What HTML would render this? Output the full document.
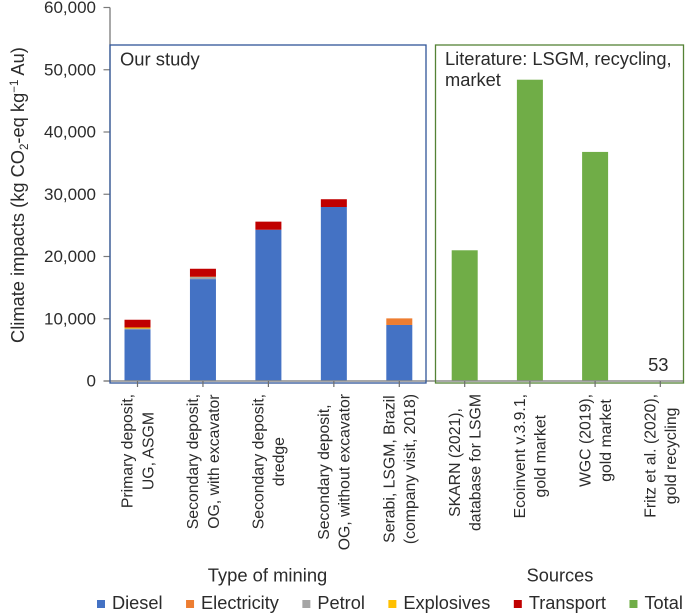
<!DOCTYPE html>
<html lang="en">
<head>
<meta charset="utf-8">
<title>Climate impacts of gold mining</title>
<style>
html,body{margin:0;padding:0;background:#fff;}
svg{display:block;font-family:"Liberation Sans",sans-serif;fill:#231f20;}
text{fill:#2b2b2b;}
</style>
</head>
<body>
<svg id="chart" width="685" height="614" viewBox="0 0 685 614" xmlns="http://www.w3.org/2000/svg"></svg>
<script>
const studyLabels = [
  ["Primary deposit,", "UG, ASGM"],
  ["Secondary deposit,", "OG, with excavator"],
  ["Secondary deposit,", "dredge"],
  ["Secondary deposit,", "OG, without excavator"],
  ["Serabi, LSGM, Brazil", "(company visit, 2018)"]
];
const diesel = [8300, 16370, 24300, 27950, 9000];
const electricity = [0, 0, 0, 0, 1060];
const petrol = [130, 330, 0, 0, 0];
const explosives = [170, 50, 0, 0, 0];
const transport = [1240, 1280, 1300, 1250, 0];
const literatureLabels = [
  ["SKARN (2021),", "database for LSGM"],
  ["Ecoinvent v.3.9.1,", "gold market"],
  ["WGC (2019),", "gold market"],
  ["Fritz et al. (2020),", "gold recycling"]
];
const total = [21000, 48400, 36800, 53];
const yTicks = [0, 10000, 20000, 30000, 40000, 50000, 60000];
const printedValues = ["", "", "", "53"];
const legendNames = ["Diesel", "Electricity", "Petrol", "Explosives", "Transport", "Total"];

const NS = "http://www.w3.org/2000/svg";
const svg = document.getElementById("chart");
const colors = {Diesel:"#4472c4", Electricity:"#ed7d31", Petrol:"#a5a5a5", Explosives:"#ffc000", Transport:"#c00000", Total:"#70ad47"};

const yZero = 381, pxPerUnit = 373.5 / 60000;
function yScale(v){ return yZero - v * pxPerUnit; }
function xStudy(i){ return 137.5 + i * 65.45; }
function xLit(i){ return 464.7 + i * 65.2; }

function make(tag, attrs, parent){
  const el = document.createElementNS(NS, tag);
  for (const k in attrs) el.setAttribute(k, attrs[k]);
  (parent || svg).appendChild(el);
  return el;
}

// y axis
const yAxis = make("line", {x1:110, x2:110, y1:yScale(60000), y2:yZero, stroke:"#6e6e6e", "stroke-width":1.2});


yTicks.forEach(function(v){
  const t = make("line", {x1:103.5, x2:110, y1:yScale(v), y2:yScale(v), stroke:"#7a7a7a", "stroke-width":1.2});
  
  
  const lab = make("text", {x:96, y:yScale(v)+5.6, "text-anchor":"end", "font-size":17});
  lab.textContent = v === 0 ? "0" : v.toLocaleString("en-US");
  
  
});

// y axis title
const yTitle = make("text", {transform:"translate(24,343) rotate(-90)", "font-size":18.3});


yTitle.appendChild(document.createTextNode("Climate impacts (kg CO"));
const sub = make("tspan", {dy:4, "font-size":11.5}, yTitle);
sub.textContent = "2";
const afterSub = make("tspan", {dy:-4}, yTitle);
afterSub.textContent = "-eq kg";
const sup = make("tspan", {dy:-6, "font-size":11.5}, yTitle);
sup.textContent = "\u22121";
const afterSup = make("tspan", {dy:6}, yTitle);
afterSup.textContent = " Au)";

// stacked bars
const barWidth = 26;
const stackOrder = [["Diesel", diesel], ["Electricity", electricity], ["Petrol", petrol], ["Explosives", explosives], ["Transport", transport]];
studyLabels.forEach(function(_, i){
  let base = 0;
  stackOrder.forEach(function(s){
    const v = s[1][i];
    if (v > 0) {
      const r = make("rect", {x:xStudy(i)-barWidth/2, y:yScale(base+v), width:barWidth, height:v*pxPerUnit, fill:colors[s[0]]});
      
      
    }
    base += v;
  });
});
// literature bars
total.forEach(function(v, i){
  const r = make("rect", {x:xLit(i)-barWidth/2, y:yScale(v), width:barWidth, height:v*pxPerUnit, fill:colors.Total});
  
  
  if (printedValues[i]) {
    const t = make("text", {x:xLit(i)-2, y:371, "text-anchor":"middle", "font-size":18.4});
    t.textContent = printedValues[i];
    
    
  }
});

// baseline
const baseLine = make("line", {x1:103.5, x2:684, y1:yZero, y2:yZero, stroke:"#8c8c8c", "stroke-width":1.4});



// panels
const bluePanel = make("rect", {x:110, y:45, width:316, height:338, fill:"none", stroke:"#2f5597", "stroke-width":1.3});


const greenPanel = make("rect", {x:435.5, y:45, width:248, height:338, fill:"none", stroke:"#548235", "stroke-width":1.3});



const ourStudy = make("text", {x:120, y:65.5, "font-size":18.4});
ourStudy.textContent = "Our study";


const lit1 = make("text", {x:445, y:65, "font-size":18.3});
lit1.textContent = "Literature: LSGM, recycling,";


const lit2 = make("text", {x:445, y:86, "font-size":18.3});
lit2.textContent = "market";



// category ticks and rotated labels
function drawCategory(lines, x){
  const tick = make("line", {x1:x, x2:x, y1:yZero, y2:387, stroke:"#6e6e6e", "stroke-width":1.2});
  
  
  const els = lines.map(function(line, k){
    const t = make("text", {"font-size":15.8, "text-anchor":"middle"});
    t.textContent = line;
    
    
    return t;
  });
  let maxLen = 0;
  els.forEach(function(t){ maxLen = Math.max(maxLen, t.getComputedTextLength()); });
  const cy = 394 + maxLen / 2;
  els.forEach(function(t, k){
    const bx = x + (k === 0 ? -4.8 : 15.8);
    t.setAttribute("transform", "translate(" + bx + "," + cy + ") rotate(-90)");
  });
}
studyLabels.forEach(function(l, i){ drawCategory(l, xStudy(i)); });
literatureLabels.forEach(function(l, i){ drawCategory(l, xLit(i)); });

// axis titles
const typeTitle = make("text", {x:267.5, y:581.5, "text-anchor":"middle", "font-size":18.4});
typeTitle.textContent = "Type of mining";


const srcTitle = make("text", {x:560, y:581.5, "text-anchor":"middle", "font-size":18.2});
srcTitle.textContent = "Sources";



// legend: laid out left to right with even gaps
let legendX = 97;
legendNames.forEach(function(name){
  const sw = make("rect", {x:legendX, y:600, width:8, height:8, fill:colors[name]});
  
  
  const t = make("text", {x:legendX+15, y:609, "font-size":18.2});
  t.textContent = name;
  
  
  legendX += 15 + t.getComputedTextLength() + 23.5;
});
</script>
</body>
</html>
